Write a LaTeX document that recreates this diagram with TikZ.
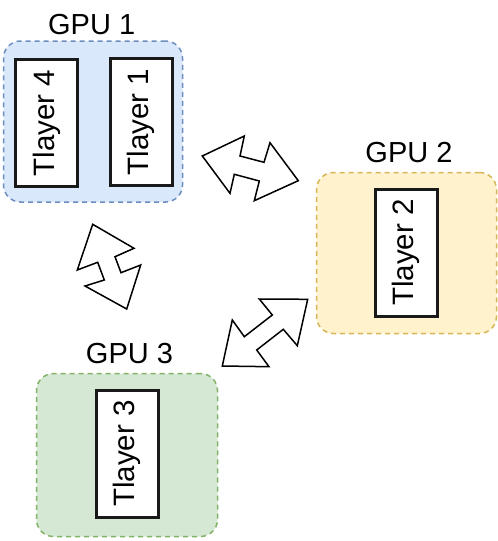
\documentclass[tikz,border=0pt]{standalone}
\usepackage{fontspec}
\setmainfont{Liberation Sans}
\definecolor{bluestroke}{HTML}{6C8EBF}
\definecolor{bluefill}{HTML}{DAE8FC}
\definecolor{yelstroke}{HTML}{D6B656}
\definecolor{yelfill}{HTML}{FFF2CC}
\definecolor{grnstroke}{HTML}{82B366}
\definecolor{grnfill}{HTML}{D5E8D4}
\begin{document}
\begin{tikzpicture}[x=1pt,y=-1pt,
  gpubox/.style={draw, line width=1.5pt, dash pattern=on 5pt off 4pt, rounded corners=17pt, minimum width=179pt, minimum height=161pt, inner sep=0pt},
  tlayer/.style={draw=black!90, line width=3pt, fill=white, rotate=90, minimum width=127pt, minimum height=62pt, inner sep=0pt, font=\fontsize{29.5}{34}\selectfont},
  gpulabel/.style={anchor=base, inner sep=0pt, font=\fontsize{29}{34}\selectfont},
  dblarrow/.style={draw=black, line width=1.5pt, fill=white, line join=miter}]
\useasboundingbox (0,0) rectangle (498,541);
% GPU containers
\node[gpubox, draw=bluestroke, fill=bluefill] (g1) at (93,121.5) {};
\node[gpubox, draw=yelstroke, fill=yelfill, minimum width=180pt] (g2) at (406.5,253) {};
\node[gpubox, draw=grnstroke, fill=grnfill, minimum width=181pt, minimum height=163pt] (g3) at (127,455) {};
% labels
\node[gpulabel] (l1) at (91.7,34.3) {GPU 1};
\node[gpulabel] (l2) at (409,162.3) {GPU 2};
\node[gpulabel] (l3) at (129.5,363.3) {GPU 3};
% layers
\node[tlayer] (t4) at (46.5,123) {Tlayer 4};
\node[tlayer] (t1) at (141,122) {Tlayer 1};
\node[tlayer] (t2) at (406,252.5) {Tlayer 2};
\node[tlayer] (t3) at (127,453.5) {Tlayer 3};
% double arrows
\draw[dblarrow] (202.3,156) -- (244.3,136) -- (240,156) -- (264,162.3) -- (270,142.7) -- (298.3,180.7) -- (254.3,200.7) -- (259.3,181) -- (234.3,174.3) -- (230,193.3) -- cycle;
\draw[dblarrow] (92.7,224.3) -- (134,248.3) -- (115,256.7) -- (121,272.7) -- (140.7,265) -- (126.7,309) -- (85,286) -- (104.3,280) -- (97.7,262.3) -- (77.3,270) -- cycle;
\draw[dblarrow] (307.7,299.3) -- (297.3,345.7) -- (283.3,329.3) -- (256.7,350) -- (269,366.7) -- (222.3,366) -- (232.3,320) -- (244.3,336.7) -- (272.3,315) -- (259.3,299) -- cycle;
\end{tikzpicture}
\end{document}
